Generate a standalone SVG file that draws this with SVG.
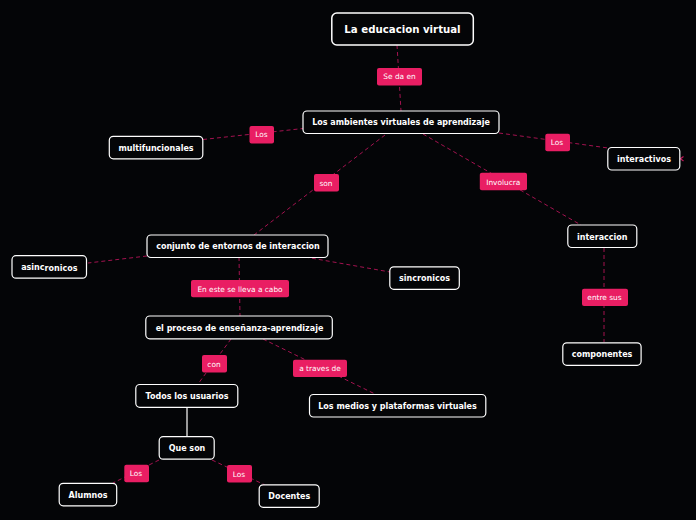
<svg xmlns="http://www.w3.org/2000/svg" width="696" height="520" viewBox="0 0 696 520">
<style>
text{font-family:"DejaVu Sans",sans-serif}
.n rect{fill:#040507;stroke:#fff;stroke-width:1.2}
.n text{fill:#fff;font-size:8px;font-weight:700;text-anchor:middle}
.l rect{fill:#e91e63}
.l text{fill:#fff;font-size:7.4px;text-anchor:middle}
#c line{stroke:#a3124f;stroke-width:1;stroke-dasharray:4 3;fill:none}
</style>
<rect width="696" height="520" fill="#040507"/>
<g id="c">
<line x1="397" y1="45" x2="401" y2="111"/>
<line x1="203" y1="139.500" x2="303" y2="128.500"/>
<line x1="499" y1="133" x2="608" y2="148"/>
<line x1="385" y1="135" x2="254" y2="235"/>
<line x1="423" y1="134" x2="581" y2="225"/>
<line x1="147" y1="256" x2="88" y2="263"/>
<line x1="305" y1="257" x2="390" y2="272"/>
<line x1="239" y1="257" x2="240" y2="316"/>
<line x1="231" y1="339" x2="198" y2="384"/>
<line x1="263" y1="339" x2="375" y2="394"/>
<line x1="159" y1="460" x2="113" y2="483"/>
<line x1="212" y1="460" x2="265" y2="485"/>
<line x1="604" y1="248" x2="604" y2="342"/>
<line x1="187" y1="407" x2="187" y2="436" style="stroke:#ccc;stroke-width:1.500;stroke-dasharray:none"/>
<path d="M683.500 156.500L680.500 158.800L683.500 161" fill="none" stroke="#c2185b" stroke-width="1.200"/>
</g>
<g id="n1" class="n"><rect x="331.800" y="13" width="141.500" height="32" rx="5" style="stroke-width:1.500"/><text x="402.500" y="33" style="font-size:10.200px">La educacion virtual</text></g>
<g id="n2" class="n"><rect x="303" y="111" width="196" height="22.500" rx="4"/><text x="401" y="125">Los ambientes virtuales de aprendizaje</text></g>
<g id="n3" class="n"><rect x="109.300" y="136.300" width="93.500" height="22.500" rx="4"/><text x="156" y="151">multifuncionales</text></g>
<g id="n4" class="n"><rect x="607.800" y="147.500" width="72" height="22.500" rx="4"/><text x="644" y="162">interactivos</text></g>
<g id="n5" class="n"><rect x="147" y="235" width="181" height="22.500" rx="4"/><text x="238" y="249">conjunto de entornos de interaccion</text></g>
<g id="n6" class="n"><rect x="12" y="255.700" width="74.500" height="22.500" rx="4"/><text x="49.300" y="270">asinc<tspan dy="1">ronicos</tspan></text></g>
<g id="n7" class="n"><rect x="567.800" y="225" width="69" height="22.500" rx="4"/><text x="602.300" y="240">interaccion</text></g>
<g id="n8" class="n"><rect x="389.800" y="266.800" width="69.500" height="22.500" rx="4"/><text x="424.500" y="281">sincronicos</text></g>
<g id="n9" class="n"><rect x="145.800" y="316" width="186.500" height="22.800" rx="4"/><text x="239.500" y="331">el proceso de enseñanza-aprendizaje</text></g>
<g id="n10" class="n"><rect x="135.800" y="384.500" width="102" height="22.800" rx="4"/><text x="187" y="399">Todos los usuarios</text></g>
<g id="n11" class="n"><rect x="309.500" y="394.500" width="176.300" height="22.500" rx="4"/><text x="397.500" y="409">Los medios y plataformas virtuales</text></g>
<g id="n12" class="n"><rect x="562.800" y="342.800" width="78.300" height="22.500" rx="4"/><text x="602" y="357">componentes</text></g>
<g id="n13" class="n"><rect x="159.200" y="436.700" width="55" height="22.500" rx="4"/><text x="187" y="451">Que son</text></g>
<g id="n14" class="n"><rect x="59.200" y="483.300" width="57.500" height="22.500" rx="4"/><text x="88" y="498">Alumnos</text></g>
<g id="n15" class="n"><rect x="259.200" y="484.800" width="60" height="22.500" rx="4"/><text x="289.300" y="499">Docentes</text></g>
<g id="l1" class="l"><rect x="377" y="68" width="45" height="17.500" rx="2"/><text x="399.500" y="79">Se da en</text></g>
<g id="l2" class="l"><rect x="249.500" y="126" width="24.500" height="17.500" rx="2"/><text x="261.500" y="137">Los</text></g>
<g id="l3" class="l"><rect x="545.300" y="133.700" width="24.700" height="17.500" rx="2"/><text x="557" y="145">Los</text></g>
<g id="l4" class="l"><rect x="314" y="174" width="25" height="17.500" rx="2"/><text x="326" y="185.500">son</text></g>
<g id="l5" class="l"><rect x="479.800" y="172.800" width="47.200" height="17.500" rx="2"/><text x="503.300" y="184.500">Involucra</text></g>
<g id="l6" class="l"><rect x="191" y="280" width="98" height="17.200" rx="2"/><text x="240" y="291.500">En este se lleva a cabo</text></g>
<g id="l7" class="l"><rect x="582" y="288.800" width="46" height="17.200" rx="2"/><text x="604.500" y="300">entre sus</text></g>
<g id="l8" class="l"><rect x="202" y="355" width="25" height="17.500" rx="2"/><text x="214" y="366.500">con</text></g>
<g id="l9" class="l"><rect x="293" y="359.800" width="54" height="17.200" rx="2"/><text x="320" y="371">a traves de</text></g>
<g id="l10" class="l"><rect x="124.300" y="464.800" width="24.700" height="17.500" rx="2"/><text x="136" y="476">Los</text></g>
<g id="l11" class="l"><rect x="227" y="465" width="25" height="17.500" rx="2"/><text x="239" y="477">Los</text></g>
</svg>
